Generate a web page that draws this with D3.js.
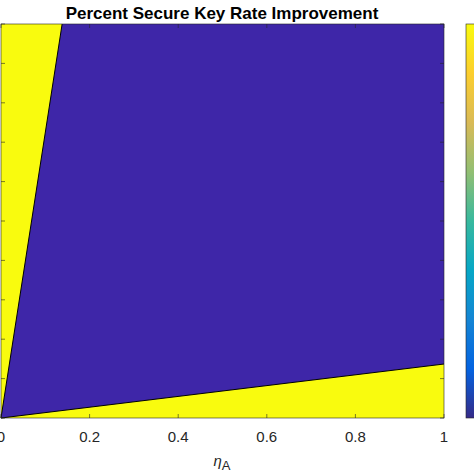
<!DOCTYPE html><html><head><meta charset="utf-8"><script src="https://cdn.jsdelivr.net/npm/d3@7"></script>
<style>body{margin:0;background:#fff}</style></head><body><svg id="c" width="474" height="474"></svg>
<script>
const xTicks=[0,0.2,0.4,0.6,0.8,1];
const xTickLabels=["0","0.2","0.4","0.6","0.8","1"];
const yTicks=[0,0.1,0.2,0.3,0.4,0.5,0.6,0.7,0.8,0.9,1];
// contour boundaries (region with improvement = low value, outside = high)
const lowerBoundary=[[0,0],[1,0.137]];
const leftBoundary=[[0,0],[0.138,1]];
const parula=["#352a87","#0363e1","#1485d4","#06a7c6","#38b99e","#92bf73","#d9ba56","#fcce2e","#f9fb0e"];
const svg=d3.select("#c");
const L=1,R=444,T=24,B=418;
const x=d3.scaleLinear().domain([0,1]).range([L,R]);
const y=d3.scaleLinear().domain([0,1]).range([B,T]);
svg.append("rect").attr("x",L).attr("y",T).attr("width",R-L).attr("height",B-T).attr("fill","#3e26a8");
const line=d3.line().x(d=>x(d[0])).y(d=>y(d[1]));
const lowPoly=[...lowerBoundary,[1,0],[0,0]];
const leftPoly=[...leftBoundary,[0,1],[0,0]];
svg.append("path").attr("d",line(lowPoly)+"Z").attr("fill","#f9fb0e");
svg.append("path").attr("d",line(leftPoly)+"Z").attr("fill","#f9fb0e");
svg.append("path").attr("d",line(lowerBoundary)).attr("fill","none").attr("stroke","#000").attr("stroke-width",1);
svg.append("path").attr("d",line(leftBoundary)).attr("fill","none").attr("stroke","#000").attr("stroke-width",1);
const g=svg.append("g").attr("stroke","#262626").attr("stroke-width",0.6);
xTicks.forEach(t=>{g.append("line").attr("x1",x(t)).attr("x2",x(t)).attr("y1",B).attr("y2",B-4);
 g.append("line").attr("x1",x(t)).attr("x2",x(t)).attr("y1",T).attr("y2",T+4);});
yTicks.forEach(t=>{g.append("line").attr("x1",L).attr("x2",L+4).attr("y1",y(t)).attr("y2",y(t));
 g.append("line").attr("x1",R).attr("x2",R-4).attr("y1",y(t)).attr("y2",y(t));});
svg.append("rect").attr("x",L).attr("y",T).attr("width",R-L).attr("height",B-T).attr("fill","none").attr("stroke","#262626").attr("stroke-width",0.6);
xTicks.forEach((t,i)=>svg.append("text").attr("x",x(t)).attr("y",442).attr("text-anchor","middle").attr("font-family","Liberation Sans, Arial").attr("font-size",15).attr("fill","#262626").text(xTickLabels[i]));
const xl=svg.append("text").attr("x",222).attr("y",466).attr("text-anchor","middle").attr("font-family","Liberation Sans, Arial").attr("font-size",15).attr("fill","#262626");
xl.append("tspan").text("η").attr("font-style","italic");
xl.append("tspan").text("A").attr("dy",4).attr("font-size",13);
svg.append("text").attr("x",222).attr("y",19).attr("text-anchor","middle").attr("font-family","Liberation Sans, Arial").attr("font-weight","bold").attr("font-size",17).attr("fill","#000").text("Percent Secure Key Rate Improvement");
const grad=svg.append("defs").append("linearGradient").attr("id","pg").attr("x1",0).attr("x2",0).attr("y1",1).attr("y2",0);
parula.forEach((c,i)=>grad.append("stop").attr("offset",i/(parula.length-1)).attr("stop-color",c));
svg.append("rect").attr("x",466).attr("y",T).attr("width",14).attr("height",B-T).attr("fill","url(#pg)").attr("stroke","#262626").attr("stroke-width",0.6);
</script></body></html>
